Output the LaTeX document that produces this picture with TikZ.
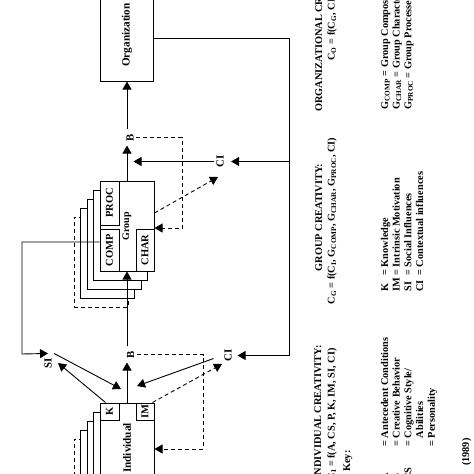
\documentclass[tikz,border=0pt]{standalone}
\usepackage{fontspec}
\setmainfont{Liberation Serif}
\usepackage{graphicx}
\usetikzlibrary{arrows.meta}

\newcommand{\vtext}[1]{\rotatebox{90}{#1}}

\tikzset{
	box/.style={draw, fill=white, line width=1pt, inner sep=0pt, font=\fontsize{10.5}{12}\selectfont\bfseries},
	lbl/.style={inner xsep=2pt, inner ysep=4pt, font=\fontsize{10.8}{12}\selectfont\bfseries},
	txt/.style={rotate=90, anchor=base west, inner sep=0pt, font=\fontsize{10.3}{12}\selectfont\bfseries},
	tip/.style={-{Triangle[length=8pt,width=9pt]}},
	dsh/.style={dash pattern=on 4pt off 3pt},
}

\begin{document}
\begin{tikzpicture}[x=1pt, y=-1pt, line width=0.9pt]
		\fill[white] (0,0) rectangle (474,474);
		\useasboundingbox (0,0) rectangle (474,474);
		
		% Stacked boxes behind the group and the individual
		\foreach \i/\sty in {4/dsh,3/solid,2/solid,1/solid}
		{
			\node[box, \sty, minimum width=54pt, minimum height=90pt] (grpS\i) at ({127-6.5*\i},{226+9*\i}) {};
			\node[box, \sty, minimum width=54pt, minimum height=90pt] (indS\i) at ({127-6.5*\i},{448+9*\i}) {};
		}
		
		% Set the main boxes
		\node[box, font=\fontsize{11.2}{12}\selectfont\bfseries, minimum width=53pt, minimum height=92pt] (org) at (127,35) {\vtext{Organization}};
		\node[box, font=\fontsize{10}{12}\selectfont\bfseries, minimum width=54pt, minimum height=90pt] (grp) at (127,226) {\vtext{Group}};
		\node[box, font=\fontsize{11.2}{12}\selectfont\bfseries, minimum width=54pt, minimum height=90pt] (ind) at (127,448) {\vtext{Individual}};
		
		% Set the parts inside the boxes
		\node[box, minimum width=19pt, minimum height=44pt] (proc) at (109.5,203) {\vtext{PROC}};
		\node[box, minimum width=19pt, minimum height=42pt] (comp) at (109.5,250) {\vtext{COMP}};
		\node[box, minimum width=18pt, minimum height=42pt] (char) at (145,250) {\vtext{CHAR}};
		\node[box, minimum width=19pt, minimum height=17pt] (k) at (109.5,411.5) {\vtext{K}};
		\node[box, minimum width=18pt, minimum height=17pt] (im) at (145,411.5) {\vtext{IM}};
		
		% Set the labels between the boxes
		\node[lbl] (gB) at (130,137.5) {\vtext{B}};
		\node[lbl] (iB) at (130.5,354.5) {\vtext{B}};
		\node[lbl] (gCI) at (220,161.5) {\vtext{CI}};
		\node[lbl] (iCI) at (228,355.5) {\vtext{CI}};
		\node[lbl] (SI) at (48,363) {\vtext{SI}};
		
		% Turning points and free ends
		\coordinate (fbTop) at (289,38);
		\coordinate (fbMid) at (289,161.5);
		\coordinate (fbBot) at (289,355.5);
		\coordinate (gLoop) at (182,228);
		\coordinate (iLoop) at (203,449);
		\coordinate (gCIin) at (218,177);
		\coordinate (iCIin) at (222,364);
		\coordinate (iCIout) at (137,386);
		\coordinate (siOut) at (121,389);
		\coordinate (siFb) at (22,354);
		
		% Connect the group level
		\draw[tip] (grp.north) -- (gB.south -| grp.north);
		\draw[tip] (gB.north -| grp.north) -- (org.south);
		\draw[tip, shorten >=6.5pt] (gCI.west) -- (gCI.west -| grp.north);
		\draw[tip, shorten >=5pt] (fbMid) -- (gCI.east);
		\draw[dsh, tip] (gB.east) -| (gLoop) -- (gLoop -| grp.east);
		\draw[dsh, tip] ([yshift=13pt]grp.east) -- (gCIin);
		
		% Connect the individual level
		\draw[tip] (ind.north) -- (iB.south -| ind.north);
		\draw[tip] (iB.north -| ind.north) -- (grp.south);
		\draw[tip, shorten >=3.5pt] (fbBot) -- (iCI.east);
		\draw[tip, shorten <=9pt] (iCI.west) -- (iCIout);
		\draw[dsh, tip] (iB.east) -| (iLoop) -- (iLoop -| ind.east);
		\draw[dsh, tip] ([xshift=-2pt]ind.north east) -- (iCIin);
		\draw[tip] ([xshift=6pt]k.north west) -- ([xshift=4pt]SI.east);
		\draw[tip] (SI.north east) -- (siOut);
		\draw[tip] ([yshift=-16pt]grp.west) -| (siFb) -- (SI.north);
		
		% Feedback from the organization
		\draw ([yshift=-3pt]org.east) -- (fbTop) -- (fbBot);
		
		% Titles and formulas
		\node[txt] (orgT) at (322,112) {ORGANIZATIONAL CREATIVITY:};
		\node[txt, anchor=base] (grpT) at (322,217.5) {GROUP CREATIVITY:};
		\node[txt, anchor=base east] (indT) at (321,345) {INDIVIDUAL CREATIVITY:};
		\node[txt] (orgF) at (334.5,61) {C\textsubscript{O} = f(C\textsubscript{G}, CI)};
		\node[txt, anchor=base] (grpF) at (334.5,221) {C\textsubscript{G} = f(C\textsubscript{I}, G\textsubscript{COMP}, G\textsubscript{CHAR}, G\textsubscript{PROC}, CI)};
		\node[txt, anchor=base east] (indF) at (334.5,348) {C\textsubscript{I} = f(A, CS, P, K, IM, SI, CI)};
		\node[txt, anchor=base east] (key) at (350,450) {Key:};
		
		% Key of the organization
		\foreach \lab/\desc [count=\r from 0] in {COMP/Composition, CHAR/Characteristics, PROC/Processes}
		\node[txt] (oD\r) at ({388+11.7*\r},110) {G\textsubscript{\lab} = Group \desc};
		
		% Key of the group
		\foreach \lab/\desc [count=\r from 0] in {K/Knowledge, IM/Intrinsic Motivation, SI/Social Influences, CI/Contextual influences}
		{
			\node[txt] (gK\r) at ({388+11.7*\r},292) {\lab};
			\node[txt] (gD\r) at ({388+11.7*\r},276) {= \desc};
		}
		
		% Key of the individual
		\node[txt] (iK0) at (388,481) {A};
		\node[txt] (iD0) at (388,447) {= Antecedent Conditions};
		\node[txt] (iK1) at (399.7,481) {B};
		\node[txt] (iD1) at (399.7,447) {= Creative Behavior};
		\node[txt] (iK2) at (411.4,481) {CS};
		\node[txt] (iD2) at (411.4,447) {= Cognitive Style/};
		\node[txt] (iD3) at (423.1,447) {\phantom{= }Abilities};
		\node[txt] (iK4) at (434.8,481) {P};
		\node[txt] (iD4) at (434.8,447) {= Personality};
		\node[txt, anchor=base east] (src) at (469,438) {(1989)};
		
	\end{tikzpicture}
\end{document}
